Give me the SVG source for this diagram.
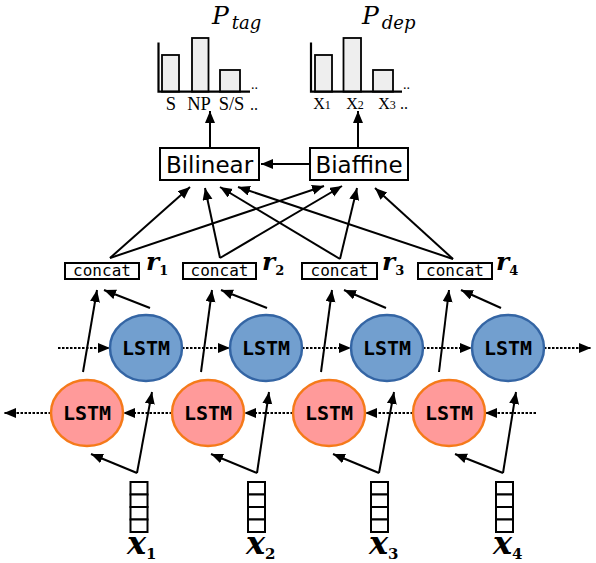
<svg xmlns="http://www.w3.org/2000/svg" width="596" height="563" viewBox="0 0 596 563">
<style>
.ln{stroke:#000;stroke-width:2;fill:none}
.dot{stroke:#000;stroke-width:2;fill:none;stroke-dasharray:2.5 1.5}
.blue{fill:#729fcf;stroke:#3465a4;stroke-width:2.5}
.red{fill:#ff9a9a;stroke:#f57a1a;stroke-width:2.5}
.lstm{font-family:"DejaVu Sans Mono",monospace;font-weight:bold;font-size:20px;text-anchor:middle}
.box{fill:#fff;stroke:#000;stroke-width:2}
.cc{font-family:"DejaVu Sans Mono",monospace;font-size:16px;text-anchor:middle}
.big{font-family:"DejaVu Sans",sans-serif;font-size:23px;text-anchor:middle}
.bar{fill:#eeeeee;stroke:#000;stroke-width:1.8}
.axis{stroke:#000;stroke-width:2.2;fill:none}
.lab{font-family:"Liberation Serif",serif;font-size:18.5px;text-anchor:middle}
.labx{font-family:"Liberation Serif",serif;font-size:16px;text-anchor:middle}
.p{font-family:"DejaVu Serif",serif;font-style:italic}
.r{font-family:"DejaVu Serif",serif;font-style:italic;font-weight:bold;font-size:25px}
.rs{font-family:"DejaVu Serif",serif;font-weight:bold;font-size:13px}
.x{font-family:"DejaVu Serif",serif;font-style:italic;font-weight:bold;font-size:32px}
.xs{font-family:"DejaVu Serif",serif;font-weight:bold;font-size:15px}
.vec{fill:#fff;stroke:#000;stroke-width:2}
</style>
<defs>
<marker id="ah" markerUnits="userSpaceOnUse" markerWidth="14" markerHeight="12" refX="12" refY="5" orient="auto">
<path d="M0,0 L12,5 L0,10 z" fill="#000"/>
</marker>
</defs>

<g id="connectors">
<line class="dot" x1="58" y1="348" x2="110" y2="348" marker-end="url(#ah)"/>
<line class="dot" x1="182" y1="348" x2="230" y2="348" marker-end="url(#ah)"/>
<line class="dot" x1="302" y1="348" x2="351" y2="348" marker-end="url(#ah)"/>
<line class="dot" x1="423" y1="348" x2="472" y2="348" marker-end="url(#ah)"/>
<line class="dot" x1="544" y1="348" x2="591" y2="348" marker-end="url(#ah)"/>
<line class="dot" x1="536" y1="413" x2="485" y2="413" marker-end="url(#ah)"/>
<line class="dot" x1="413" y1="413" x2="365" y2="413" marker-end="url(#ah)"/>
<line class="dot" x1="293" y1="413" x2="244" y2="413" marker-end="url(#ah)"/>
<line class="dot" x1="172" y1="413" x2="123" y2="413" marker-end="url(#ah)"/>
<line class="dot" x1="51" y1="413" x2="4" y2="413" marker-end="url(#ah)"/>
<line class="ln" x1="137" y1="473" x2="152" y2="392" marker-end="url(#ah)"/>
<line class="ln" x1="137" y1="473" x2="91" y2="454" marker-end="url(#ah)"/>
<line class="ln" x1="257" y1="473" x2="269" y2="392" marker-end="url(#ah)"/>
<line class="ln" x1="257" y1="473" x2="211" y2="454" marker-end="url(#ah)"/>
<line class="ln" x1="379" y1="473" x2="394" y2="392" marker-end="url(#ah)"/>
<line class="ln" x1="379" y1="473" x2="333" y2="454" marker-end="url(#ah)"/>
<line class="ln" x1="503" y1="473" x2="516" y2="392" marker-end="url(#ah)"/>
<line class="ln" x1="503" y1="473" x2="455" y2="454" marker-end="url(#ah)"/>
<line class="ln" x1="83" y1="372" x2="97" y2="290" marker-end="url(#ah)"/>
<line class="ln" x1="150" y1="308" x2="104" y2="290" marker-end="url(#ah)"/>
<line class="ln" x1="201" y1="372" x2="212" y2="290" marker-end="url(#ah)"/>
<line class="ln" x1="267" y1="308" x2="221" y2="290" marker-end="url(#ah)"/>
<line class="ln" x1="321" y1="372" x2="332" y2="290" marker-end="url(#ah)"/>
<line class="ln" x1="386" y1="308" x2="344" y2="290" marker-end="url(#ah)"/>
<line class="ln" x1="439" y1="372" x2="449" y2="290" marker-end="url(#ah)"/>
<line class="ln" x1="501" y1="308" x2="461" y2="290" marker-end="url(#ah)"/>
<line class="ln" x1="110" y1="258" x2="190" y2="187" marker-end="url(#ah)"/>
<line class="ln" x1="110" y1="258" x2="324" y2="186" marker-end="url(#ah)"/>
<line class="ln" x1="220" y1="258" x2="205" y2="188" marker-end="url(#ah)"/>
<line class="ln" x1="220" y1="258" x2="342" y2="186" marker-end="url(#ah)"/>
<line class="ln" x1="340" y1="259" x2="220" y2="187" marker-end="url(#ah)"/>
<line class="ln" x1="340" y1="259" x2="357" y2="188" marker-end="url(#ah)"/>
<line class="ln" x1="453" y1="259" x2="238" y2="187" marker-end="url(#ah)"/>
<line class="ln" x1="453" y1="259" x2="375" y2="188" marker-end="url(#ah)"/>
<line class="ln" x1="310" y1="164" x2="261" y2="164" marker-end="url(#ah)"/>
<line class="ln" x1="210" y1="148" x2="210" y2="111" marker-end="url(#ah)"/>
<line class="ln" x1="358" y1="148" x2="358" y2="111" marker-end="url(#ah)"/>
</g>

<g id="lstm-f1"><ellipse class="blue" cx="146" cy="348" rx="36" ry="33"/><text class="lstm" x="146" y="355">LSTM</text></g>
<g id="lstm-f2"><ellipse class="blue" cx="266" cy="348" rx="36" ry="33"/><text class="lstm" x="266" y="355">LSTM</text></g>
<g id="lstm-f3"><ellipse class="blue" cx="387" cy="348" rx="36" ry="33"/><text class="lstm" x="387" y="355">LSTM</text></g>
<g id="lstm-f4"><ellipse class="blue" cx="508" cy="348" rx="36" ry="33"/><text class="lstm" x="508" y="355">LSTM</text></g>
<g id="lstm-b1"><ellipse class="red" cx="87" cy="413" rx="36" ry="33"/><text class="lstm" x="87" y="420">LSTM</text></g>
<g id="lstm-b2"><ellipse class="red" cx="208" cy="413" rx="36" ry="33"/><text class="lstm" x="208" y="420">LSTM</text></g>
<g id="lstm-b3"><ellipse class="red" cx="329" cy="413" rx="36" ry="33"/><text class="lstm" x="329" y="420">LSTM</text></g>
<g id="lstm-b4"><ellipse class="red" cx="449" cy="413" rx="36" ry="33"/><text class="lstm" x="449" y="420">LSTM</text></g>

<g id="input1"><rect class="vec" x="130.5" y="482" width="17" height="12.5"/><rect class="vec" x="130.5" y="494.5" width="17" height="12.5"/><rect class="vec" x="130.5" y="507" width="17" height="12.5"/><rect class="vec" x="130.5" y="519.5" width="17" height="12.5"/>
<text x="127" y="554"><tspan class="x">x</tspan><tspan class="xs" dy="5">1</tspan></text></g>
<g id="input2"><rect class="vec" x="248" y="482" width="17" height="12.5"/><rect class="vec" x="248" y="494.5" width="17" height="12.5"/><rect class="vec" x="248" y="507" width="17" height="12.5"/><rect class="vec" x="248" y="519.5" width="17" height="12.5"/>
<text x="246" y="554"><tspan class="x">x</tspan><tspan class="xs" dy="5">2</tspan></text></g>
<g id="input3"><rect class="vec" x="371" y="482" width="17" height="12.5"/><rect class="vec" x="371" y="494.5" width="17" height="12.5"/><rect class="vec" x="371" y="507" width="17" height="12.5"/><rect class="vec" x="371" y="519.5" width="17" height="12.5"/>
<text x="369" y="554"><tspan class="x">x</tspan><tspan class="xs" dy="5">3</tspan></text></g>
<g id="input4"><rect class="vec" x="496" y="482" width="17" height="12.5"/><rect class="vec" x="496" y="494.5" width="17" height="12.5"/><rect class="vec" x="496" y="507" width="17" height="12.5"/><rect class="vec" x="496" y="519.5" width="17" height="12.5"/>
<text x="493" y="554"><tspan class="x">x</tspan><tspan class="xs" dy="5">4</tspan></text></g>

<g id="concat1"><rect class="box" x="65" y="263" width="74" height="16"/><text class="cc" x="102" y="276">concat</text>
<text x="146" y="270"><tspan class="r">r</tspan><tspan class="rs" dy="5">1</tspan></text></g>
<g id="concat2"><rect class="box" x="183" y="263" width="73" height="16"/><text class="cc" x="219.5" y="276">concat</text>
<text x="262" y="270"><tspan class="r">r</tspan><tspan class="rs" dy="5">2</tspan></text></g>
<g id="concat3"><rect class="box" x="302" y="263" width="75" height="16"/><text class="cc" x="339.5" y="276">concat</text>
<text x="382" y="270"><tspan class="r">r</tspan><tspan class="rs" dy="5">3</tspan></text></g>
<g id="concat4"><rect class="box" x="418" y="263" width="74" height="16"/><text class="cc" x="455" y="276">concat</text>
<text x="496" y="270"><tspan class="r">r</tspan><tspan class="rs" dy="5">4</tspan></text></g>

<g id="bilinear"><rect class="box" x="160" y="148" width="99" height="32"/><text class="big" x="209.5" y="172.5">Bilinear</text></g>
<g id="biaffine"><rect class="box" x="310" y="148" width="98" height="32"/><text class="big" x="359" y="172.5">Biaffine</text></g>

<g id="ptag">
<rect class="bar" x="162" y="55" width="17" height="36.7"/>
<rect class="bar" x="192" y="38" width="16.5" height="53.7"/>
<rect class="bar" x="220" y="70" width="20" height="21.7"/>
<polyline class="axis" points="158.5,42.5 158.5,91.7 250,91.7"/>
<text x="251" y="89" style="font-family:'Liberation Serif',serif;font-size:14px">..</text>
<text class="lab" x="171" y="110">S</text>
<text class="lab" x="199" y="110">NP</text>
<text class="lab" x="231.5" y="110">S/S</text>
<text x="250" y="110" style="font-family:'Liberation Serif',serif;font-size:16px">..</text>
<text x="212" y="24"><tspan class="p" style="font-size:25px">P</tspan><tspan class="p" style="font-size:18px" dx="3" dy="5">tag</tspan></text>
</g>
<g id="pdep">
<rect class="bar" x="315" y="55" width="17" height="36.7"/>
<rect class="bar" x="343.5" y="38" width="17.5" height="53.7"/>
<rect class="bar" x="373" y="70" width="20" height="21.7"/>
<polyline class="axis" points="311,42.5 311,91.7 402,91.7"/>
<text x="403" y="89" style="font-family:'Liberation Serif',serif;font-size:14px">..</text>
<text class="labx" x="322" y="109">X<tspan style="font-size:12px">1</tspan></text>
<text class="labx" x="355" y="109">X<tspan style="font-size:12px">2</tspan></text>
<text class="labx" x="387" y="109">X<tspan style="font-size:12px">3</tspan></text>
<text x="400" y="109" style="font-family:'Liberation Serif',serif;font-size:16px">..</text>
<text x="362" y="24"><tspan class="p" style="font-size:25px">P</tspan><tspan class="p" style="font-size:18px" dx="3" dy="5">dep</tspan></text>
</g>
</svg>
